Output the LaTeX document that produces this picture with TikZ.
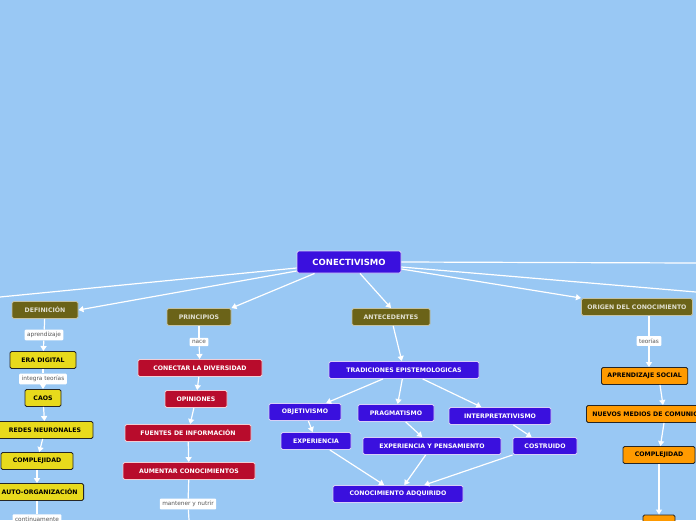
\documentclass[tikz,border=0pt]{standalone}
\usepackage{fontspec}
\setmainfont{DejaVu Sans}
\usetikzlibrary{arrows.meta}
\definecolor{bg}{HTML}{99C8F4}
\definecolor{blu}{HTML}{3A10DE}
\definecolor{oli}{HTML}{6B6318}
\definecolor{rd}{HTML}{B80C2C}
\definecolor{yl}{HTML}{E8DA1C}
\definecolor{org}{HTML}{FF9A00}
\tikzset{
 x=1pt,y=-1pt,
 base/.style={rounded corners=1.5pt,font=\bfseries\fontsize{6.2}{7}\selectfont,minimum height=17pt,inner xsep=6pt,line width=0.9pt},
 bl/.style={base,fill=blu,draw=white!80!blu,text=white},
 ol/.style={base,fill=oli,draw=white!60!oli,text=white!80!oli},
 rb/.style={base,fill=rd,draw=white!80!rd,text=white},
 yb/.style={base,fill=yl,draw=black!85,text=black},
 ob/.style={base,fill=org,draw=black!85,text=black},
 lab/.style={fill=white,text=black!65,font=\fontsize{5.8}{7}\selectfont,inner sep=2.5pt,rounded corners=1pt},
 ln/.style={draw=white,line width=1.2pt},
 ar/.style={ln,-{Triangle[width=6pt,length=5pt]}}
}
\begin{document}
\begin{tikzpicture}
\fill[bg] (0,0) rectangle (696,520);
\useasboundingbox (0,0) rectangle (696,520);
\node[bl,font=\bfseries\fontsize{8.5}{10}\selectfont,minimum width=104pt,minimum height=22pt] (c) at (349,262) {CONECTIVISMO};
\node[ol,minimum width=66pt] (def) at (45,310) {DEFINICIÓN};
\node[ol,minimum width=64pt] (pri) at (199,317) {PRINCIPIOS};
\node[ol,minimum width=78pt] (ant) at (391,317) {ANTECEDENTES};
\node[ol,anchor=west] (ori) at (581,307) {ORIGEN DEL CONOCIMIENTO};
\coordinate (l1) at (0,297);
\coordinate (r1) at (696,263);
\coordinate (r2) at (696,292);
\draw[ln] (c.west) ++(0,6) -- (l1);
\draw[ar] (c.west) ++(0,9) -- (def.east);
\draw[ar] (c.south west) ++(18,0) -- (pri.north east);
\draw[ar] (c.south) ++(11,0) -- (ant.north);
\draw[ar] (c.east) ++(0,7) -- (ori.north west);
\draw[ln] (c.east) -- (r1);
\draw[ln] (c.east) ++(0,5) -- (r2);
% definicion
\node[yb,minimum width=66pt] (ed) at (43,360) {ERA DIGITAL};
\node[yb,minimum width=36pt] (caos) at (43,398) {CAOS};
\node[yb,minimum width=96pt] (rn) at (45,430) {REDES NEURONALES};
\node[yb,minimum width=72pt] (cx) at (37,461) {COMPLEJIDAD};
\node[yb,anchor=east] (ao) at (84,492) {AUTO-ORGANIZACIÓN};
\node[lab] (t1) at (44,335) {aprendizaje};
\node[lab] (t2) at (43,379) {integra teorías};
\node[lab] (t3) at (37,519) {continuamente};
\draw[ln] (def) -- (t1); \draw[ar] (t1) -- (ed);
\draw[ln] (ed) -- (t2); \draw[ar] (t2) -- (caos);
\draw[ar] (caos) -- (rn);
\draw[ar] (rn) -- (cx);
\draw[ar] (cx) -- (ao.north -| cx);
\draw[ln] (ao.south -| t3) -- (t3);
% principios
\node[rb,minimum width=124pt] (cd) at (200,368) {CONECTAR LA DIVERSIDAD};
\node[rb,minimum width=62pt] (op) at (196,399) {OPINIONES};
\node[rb,minimum width=126pt] (fi) at (188,433) {FUENTES DE INFORMACIÓN};
\node[rb,minimum width=132pt] (ac) at (189,471) {AUMENTAR CONOCIMIENTOS};
\node[lab] (t4) at (199,342) {nace};
\node[lab] (t5) at (188,504) {mantener y nutrir};
\coordinate (pb) at (189,520);
\draw[ln] (pri) -- (t4); \draw[ar] (t4) -- (cd);
\draw[ar] (cd) -- (op);
\draw[ar] (op) -- (fi);
\draw[ar] (fi) -- (ac);
\draw[ln] (ac) -- (t5); \draw[ln] (t5) -- (pb);
% antecedentes
\node[bl,minimum width=150pt] (te) at (404,370) {TRADICIONES EPISTEMOLOGICAS};
\node[bl,minimum width=72pt] (obj) at (305,412) {OBJETIVISMO};
\node[bl,minimum width=76pt] (pra) at (396,413) {PRAGMATISMO};
\node[bl,minimum width=102pt] (int) at (500,416) {INTERPRETATIVISMO};
\node[bl,minimum width=70pt] (exp) at (316,441) {EXPERIENCIA};
\node[bl,minimum width=138pt] (eyp) at (432,446) {EXPERIENCIA Y PENSAMIENTO};
\node[bl,minimum width=64pt] (cos) at (545,446) {COSTRUIDO};
\node[bl,minimum width=130pt] (ca) at (398,494) {CONOCIMIENTO ADQUIRIDO};
\draw[ar] (ant) -- (te);
\draw[ar] (te) -- (obj);
\draw[ar] (te) -- (pra);
\draw[ar] (te) -- (int);
\draw[ar] (obj) -- (exp);
\draw[ar] (pra) -- (eyp);
\draw[ar] (int) -- (cos);
\draw[ar] (exp) -- (ca);
\draw[ar] (eyp) -- (ca);
\draw[ar] (cos.south west) -- (ca);
% origen
\node[lab] (t6) at (649,341) {teorías};
\node[ob,anchor=west] (as) at (601,376) {APRENDIZAJE SOCIAL};
\node[ob,anchor=west] (nm) at (586,414) {NUEVOS MEDIOS DE COMUNICACIÓN};
\node[ob,minimum width=72pt] (cx2) at (659,455) {COMPLEJIDAD};
\node[ob,minimum width=32pt,minimum height=18pt] (b) at (659,524) {};
\draw[ln] (ori.south -| t6) -- (t6); \draw[ar] (t6) -- (as.north -| t6);
\draw[ar] (as.south -| 660,0) -- (nm.north -| 663,0);
\draw[ar] (nm.south -| 664,0) -- (cx2);
\draw[ar] (cx2) -- (b);
\end{tikzpicture}
\end{document}
